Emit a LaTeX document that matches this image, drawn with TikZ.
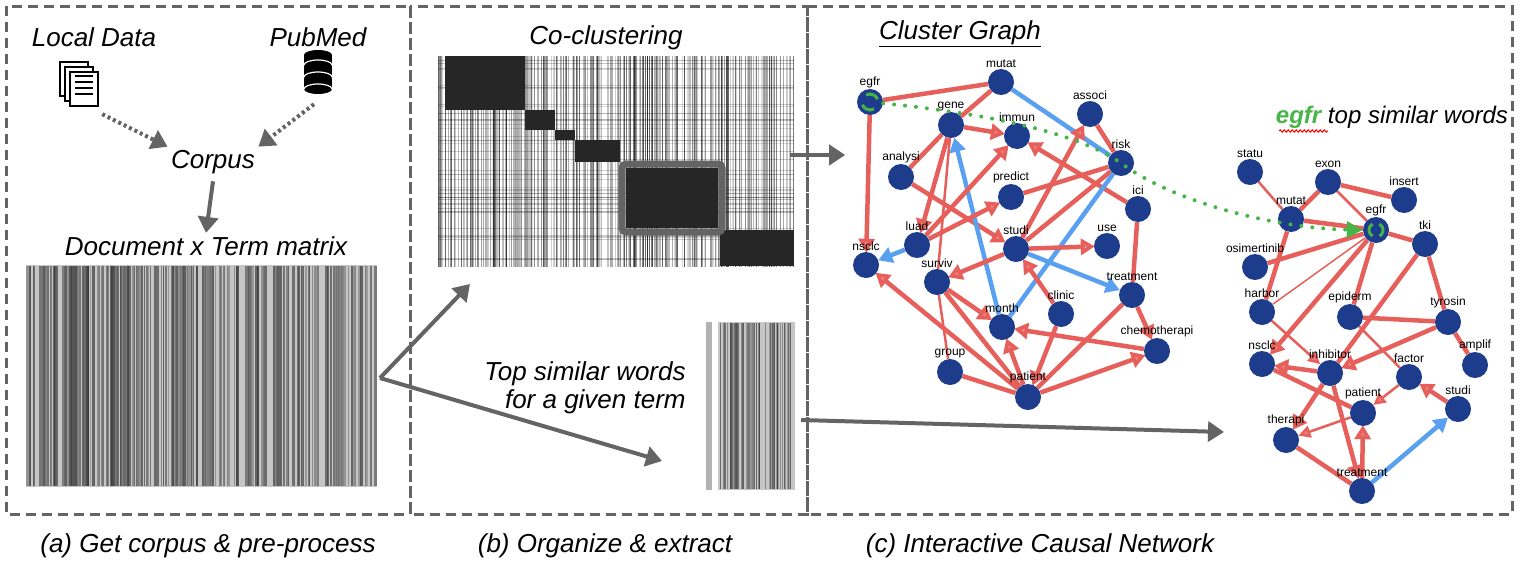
\documentclass[tikz,border=0pt]{standalone}
\usepackage{fontspec}
\setmainfont{Liberation Sans}
\usetikzlibrary{arrows.meta,decorations.pathmorphing,backgrounds}
\definecolor{nodeblue}{RGB}{30,60,140}
\definecolor{edgered}{RGB}{230,95,90}
\definecolor{tipred}{RGB}{235,130,125}
\definecolor{edgeblue}{RGB}{90,160,240}
\definecolor{panelgray}{RGB}{100,100,100}
\definecolor{dotgreen}{RGB}{70,180,70}
\tikzset{
    word/.style={circle, fill=nodeblue, inner sep=0, minimum size=26pt},
    rel/.style={draw=edgered, line width=4.5pt},
    thin rel/.style={draw=edgered, line width=2.5pt},
    cause/.style={rel, -{Triangle[length=14pt, width=16pt, fill=tipred]}, shorten >=-1pt},
    blue cause/.style={draw=edgeblue, line width=4.5pt, -{Triangle[length=14pt, width=16pt]}},
    blue rel/.style={draw=edgeblue, line width=4.5pt},
    flow/.style={draw=panelgray, line width=4pt, -{Triangle[length=16pt, width=20pt]}},
    panel/.style={draw=panelgray, line width=3pt, dash pattern=on 10pt off 6pt},
    title/.style={font=\fontsize{26}{28}\selectfont\itshape},
    small/.style={font=\fontsize{12}{13}\selectfont}
}
\newcommand{\wordnode}[4]{\node[word, label={[small, inner sep=1pt]above:#4}] (#1) at (#2,#3) {};}
\begin{document}
\begin{tikzpicture}[x=1pt, y=-1pt]
\useasboundingbox (0,0) rectangle (1520,568);
\pgfmathsetseed{7}

% Panels
\draw[panel] (6,6) rectangle (410,514);
\draw[panel] (410,6) rectangle (807,514);
\draw[panel] (807,6) rectangle (1512,514);
\node[title] (capa) at (208,546) {(a) Get corpus \& pre-process};
\node[title] (capb) at (605,546) {(b) Organize \& extract};
\node[title] (capc) at (1040,546) {(c) Interactive Causal Network};

% (a) sources
\node[title] (local) at (94,37) {Local Data};
\node[title] (pubmed) at (318,37) {PubMed};
\foreach \d in {0,5,10} {
    \draw[fill=white, line width=1.4pt] (60+\d,62+\d) rectangle (88+\d,96+\d);
}
\foreach \l in {76,82,88,94} \draw[line width=1.2pt] (75,\l) -- (93,\l);
\node[inner sep=0, minimum width=38pt, minimum height=44pt] (docs) at (79,84) {};
\foreach \h in {62,74,86} {
    \fill[black] (304,\h-7) rectangle (332,\h+3);
    \fill[black] (318,\h-7) ellipse (14 and 5);
    \fill[black] (318,\h+3) ellipse (14 and 5);
    \draw[white, line width=1.2pt] (304,\h+3) arc (180:360:14 and 5);
}
\node[inner sep=0, minimum width=28pt, minimum height=44pt] (db) at (318,72) {};
\node[title] (corpus) at (213,162) {Corpus};
\draw[draw=panelgray, line width=4pt, dash pattern=on 3pt off 3pt, -{Triangle[length=16pt, width=20pt]}] (docs.south east) ++(4,8) -- (corpus.north west);
\draw[draw=panelgray, line width=4pt, dash pattern=on 3pt off 3pt, -{Triangle[length=16pt, width=20pt]}] (db.south) ++(-4,10) -- (corpus.north east);
\node[title] (dtm) at (206,246) {Document x Term matrix};
\draw[flow] (corpus.south) ++(0,4) -- (dtm.north);

% Document x Term matrix
\node[fill=gray!45, inner sep=0, minimum width=351pt, minimum height=222pt] (matrix) at (201.5,376) {};
\foreach \i in {0,...,230} {
    \pgfmathsetmacro{\xx}{27+rnd*349}
    \pgfmathsetmacro{\gg}{45+rnd*35}
    \pgfmathsetmacro{\ww}{0.5+rnd*2.5}
    \draw[black!\gg, line width=\ww pt, opacity=0.7] (\xx,266) -- (\xx,486);
}

% (b) Co-clustering
\node[fill=white, inner sep=0, minimum width=358pt, minimum height=243pt] (cmat) at (616,146) {};
\foreach \i in {0,...,300} {
    \pgfmathsetmacro{\xx}{438+rnd*356}
    \pgfmathsetmacro{\oo}{10+rnd*35}
    \pgfmathsetmacro{\ww}{0.3+rnd*1.2}
    \draw[black, opacity=\oo/100, line width=\ww pt] (\xx,56) -- (\xx,267);
}
\foreach \i in {0,...,40} {
    \pgfmathsetmacro{\yy}{56+rnd*211}
    \pgfmathsetmacro{\oo}{10+rnd*20}
    \draw[black, opacity=\oo/100, line width=0.8pt] (438,\yy) -- (794,\yy);
}
\fill[black!85] (445,56) rectangle (525,110);
\fill[black!85] (525,110) rectangle (555,130);
\fill[black!85] (555,130) rectangle (575,140);
\fill[black!85] (575,140) rectangle (620,162);
\fill[black!85] (626,168) rectangle (718,228);
\fill[black!85] (720,230) rectangle (794,266);
\draw[panelgray, line width=7pt, rounded corners=4pt] (622,164) rectangle (722,232);
\node[title, fill=white, inner sep=2pt] (cocl) at (606,38) {Co-clustering};

% Top similar words strip
\node[fill=gray!60, inner sep=0, minimum width=6pt, minimum height=168pt] (strip) at (709,406) {};
\node[fill=gray!45, inner sep=0, minimum width=77pt, minimum height=168pt] (simmat) at (756.5,406) {};
\foreach \i in {0,...,70} {
    \pgfmathsetmacro{\xx}{719+rnd*75}
    \pgfmathsetmacro{\gg}{45+rnd*35}
    \draw[black!\gg, line width=1pt, opacity=0.7] (\xx,323) -- (\xx,489);
}
\node[title, align=right] (simtxt) at (585,388) {Top similar words\\for a given term};

\coordinate (split) at (380,378);
\draw[flow] (split) -- (470,284);
\draw[flow] (split) -- (662,461);
\draw[flow] (cmat.east) ++(-5,9) -- ++(55,0);
\draw[flow] (simmat.east) ++(6,14) -- (1224,432);

% (c) Cluster graph
\node[title] (cgraph) at (960,34) {\underline{Cluster Graph}};
\wordnode{egfr}{870}{102}{egfr}
\wordnode{mutat}{1001}{82}{mutat}
\wordnode{associ}{1090}{114}{associ}
\wordnode{gene}{951}{125}{gene}
\wordnode{immun}{1017}{136}{immun}
\wordnode{risk}{1121}{163}{risk}
\wordnode{analysi}{901}{177}{analysi}
\wordnode{predict}{1011}{197}{predict}
\wordnode{ici}{1138}{209}{ici}
\wordnode{luad}{917}{245}{luad}
\wordnode{studi}{1016}{249}{studi}
\wordnode{use}{1107}{246}{use}
\wordnode{nsclc}{866}{265}{nsclc}
\wordnode{surviv}{937}{282}{surviv}
\wordnode{treatment}{1132}{295}{treatment}
\wordnode{clinic}{1061}{314}{clinic}
\wordnode{month}{1002}{327}{month}
\wordnode{chemo}{1157}{351}{chemotherapi}
\wordnode{group}{950}{372}{group}
\wordnode{patient}{1028}{397}{patient}

\begin{pgfonlayer}{background}
\draw[rel] (egfr) -- (mutat);
\draw[cause] (egfr) -- (nsclc);
\draw[rel] (mutat) -- (gene);
\draw[blue rel] (mutat) -- (risk);
\draw[cause] (gene) -- (immun);
\draw[rel] (gene) -- (analysi);
\draw[cause] (gene) -- (luad);
\draw[thin rel] (gene) -- (surviv);
\draw[cause] (analysi) -- (studi);
\draw[blue cause] (month) -- (gene);
\draw[cause] (luad) -- (immun);
\draw[cause] (luad) -- (predict);
\draw[blue cause] (luad) -- (nsclc);
\draw[rel] (associ) -- (risk);
\draw[cause] (studi) -- (associ);
\draw[rel] (risk) -- (predict);
\draw[rel] (risk) -- (studi);
\draw[cause] (ici) -- (immun);
\draw[blue rel] (risk) -- (month);
\draw[cause] (studi) -- (use);
\draw[cause] (studi) -- (surviv);
\draw[blue cause] (studi) -- (treatment);
\draw[cause] (clinic) -- (studi);
\draw[rel] (ici) -- (treatment);
\draw[cause] (treatment) -- (chemo);
\draw[rel] (treatment) -- (patient);
\draw[cause] (patient) -- (nsclc);
\draw[cause] (surviv) -- (month);
\draw[rel] (surviv) -- (patient);
\draw[thin rel] (surviv) -- (group);
\draw[rel] (group) -- (patient);
\draw[cause] (patient) -- (month);
\draw[cause] (clinic) -- (patient);
\draw[cause] (patient) -- (chemo);
\draw[cause] (chemo) -- (month);
\end{pgfonlayer}

% egfr top similar words
\node[font=\fontsize{24}{26}\selectfont\itshape] (simtitle) at (1392,117) {\textcolor{dotgreen}{\textbf{egfr}} top similar words};
\draw[red, line width=1pt, decorate, decoration={snake, amplitude=1.2pt, segment length=4pt}] (1279,131) -- (1328,131);

\wordnode{rstatu}{1250}{172}{statu}
\wordnode{rexon}{1328}{182}{exon}
\wordnode{rinsert}{1404}{200}{insert}
\wordnode{rmutat}{1291}{219}{mutat}
\wordnode{regfr}{1376}{230}{egfr}
\wordnode{rtki}{1425}{244}{tki}
\wordnode{rosim}{1255}{267}{osimertinib}
\wordnode{rharbor}{1262}{312}{harbor}
\wordnode{repiderm}{1350}{317}{epiderm}
\wordnode{rtyrosin}{1448}{322}{tyrosin}
\wordnode{rnsclc}{1262}{364}{nsclc}
\wordnode{rinhib}{1330}{373}{inhibitor}
\wordnode{ramplif}{1475}{365}{amplif}
\wordnode{rfactor}{1409}{377}{factor}
\wordnode{rpatient}{1363}{413}{patient}
\wordnode{rstudi}{1458}{409}{studi}
\wordnode{rtherapi}{1286}{440}{therapi}
\wordnode{rtreat}{1362}{491}{treatment}

\begin{pgfonlayer}{background}
\draw[thin rel] (rstatu) -- (rmutat);
\draw[rel] (rexon) -- (rmutat);
\draw[rel] (rexon) -- (rinsert);
\draw[thin rel] (rexon) -- (regfr);
\draw[rel] (rmutat) -- (regfr);
\draw[rel] (rmutat) -- (rharbor);
\draw[rel] (rosim) -- (regfr);
\draw[draw=edgered, line width=1.5pt] (rharbor) -- (regfr);
\draw[cause] (regfr) -- (rnsclc);
\draw[rel] (regfr) -- (repiderm);
\draw[rel] (regfr) -- (rtki);
\draw[rel] (rtki) -- (rinhib);
\draw[rel] (rtki) -- (rtyrosin);
\draw[rel] (repiderm) -- (rtyrosin);
\draw[thin rel] (repiderm) -- (rfactor);
\draw[cause] (rtyrosin) -- (rinhib);
\draw[rel] (rtyrosin) -- (ramplif);
\draw[thin rel, -{Triangle[length=12pt, width=12pt, fill=tipred]}] (rharbor) -- (rinhib);
\draw[cause] (rinhib) -- (rnsclc);
\draw[rel] (rpatient) -- (rnsclc);
\draw[cause] (rinhib) -- (rtherapi);
\draw[cause] (rinhib) -- (rtreat);
\draw[thin rel, -{Triangle[length=12pt, width=12pt, fill=tipred]}] (rpatient) -- (rtherapi);
\draw[thin rel, -{Triangle[length=12pt, width=12pt, fill=tipred]}] (rfactor) -- (rpatient);
\draw[cause] (rstudi) -- (rfactor);
\draw[cause] (rtreat) -- (rpatient);
\draw[rel] (rtherapi) -- (rtreat);
\draw[blue cause] (rtreat) -- (rstudi);
\end{pgfonlayer}

% egfr link between graphs
\draw[dotgreen, line width=3pt] (egfr) ++(60:8) arc (60:160:8) (egfr) ++(-120:8) arc (-120:-20:8);
\draw[dotgreen, line width=3pt] (regfr) ++(60:7) arc (60:-60:7) (regfr) ++(120:7) arc (120:240:7);
\draw[dotgreen, line width=4pt, line cap=round, dash pattern=on 0pt off 11pt, -{Triangle[length=16pt, width=16pt]}] (egfr) .. controls (1000,115) and (1080,135) .. (1121,163) .. controls (1170,200) and (1270,228) .. (regfr.west);
\end{tikzpicture}
\end{document}
